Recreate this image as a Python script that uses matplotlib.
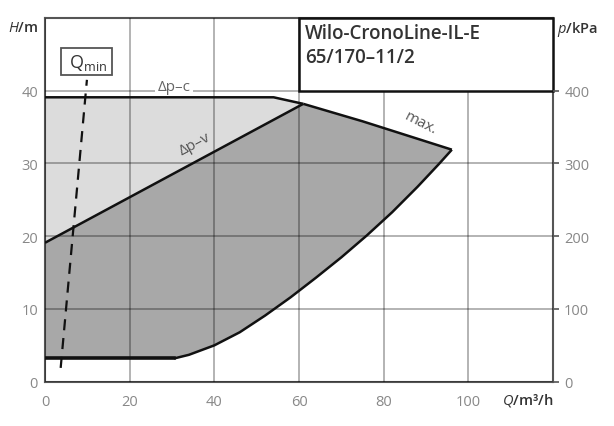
import matplotlib
matplotlib.use("Agg")
import matplotlib.pyplot as plt
from matplotlib.patches import Rectangle, Polygon

plt.rcParams["font.family"] = ["Open Sans", "DejaVu Sans"]
plt.rcParams["mathtext.fontset"] = "custom"
plt.rcParams["mathtext.rm"] = "Open Sans"
plt.rcParams["mathtext.it"] = "Open Sans:italic"

# pump curves, Q in m3/h, H in m
dpc_q = [0, 54, 61.0]
dpc_h = [39.1, 39.1, 38.2]
dpv_q = [0, 61.0]
dpv_h = [19.1, 38.2]
max_q = [61.0, 75, 96.1]
max_h = [38.2, 35.8, 31.9]
low_q = [30.5, 34, 40, 46, 52, 58, 64, 70, 76, 82, 88, 93, 96.1]
low_h = [3.2, 3.7, 5.0, 6.8, 9.1, 11.6, 14.3, 17.1, 20.1, 23.3, 26.8, 29.9, 31.9]
min_q = [0, 30.5]
min_h = [3.2, 3.2]
qmin_q = [3.7, 9.9]
qmin_h = [1.9, 41.5]

x_ticks = [0, 20, 40, 60, 80, 100]
h_ticks = [0, 10, 20, 30, 40]
p_ticks = [0, 100, 200, 300, 400]

fig = plt.figure(figsize=(6.14, 4.27), dpi=100)
ax = fig.add_axes([0.0733, 0.1037, 0.8274, 0.8518])
ax.set_xlim(0, 120)
ax.set_ylim(0, 50)

light = list(zip(dpc_q, dpc_h)) + list(zip(dpv_q, dpv_h))[::-1]
dark = (list(zip(min_q, min_h)) + list(zip(low_q, low_h))
        + list(zip(max_q, max_h))[::-1] + list(zip(dpv_q, dpv_h))[::-1])
ax.add_patch(Polygon(light, closed=True, facecolor="#dcdcdc", edgecolor="none", zorder=1))
ax.add_patch(Polygon(dark, closed=True, facecolor="#a8a8a8", edgecolor="none", zorder=1))

line_kw = dict(color="#111111", lw=1.8, zorder=3, solid_capstyle="butt",
               solid_joinstyle="round")
ax.plot(dpc_q, dpc_h, **line_kw)
ax.plot(dpv_q, dpv_h, **line_kw)
ax.plot(max_q, max_h, **line_kw)
ax.plot(low_q, low_h, **line_kw)
ax.plot(min_q, min_h, color="#111111", lw=2.6, zorder=3)
ax.plot(qmin_q, qmin_h, color="#111111", lw=1.6, linestyle=(0, (5, 3.5)), zorder=3)

ax.set_xticks(x_ticks)
ax.set_yticks(h_ticks)
ax.set_axisbelow(False)
ax.grid(True, color="black", alpha=0.32, lw=1.3)
for gl in ax.get_xgridlines() + ax.get_ygridlines():
    gl.set_zorder(2.5)
ax.tick_params(axis="both", length=0, labelsize=10.5, colors="#888888")
ax.tick_params(axis="y", pad=5)
ax.tick_params(axis="x", pad=9)
for side in ["left", "bottom", "right", "top"]:
    ax.spines[side].set_color("#555555")
    ax.spines[side].set_linewidth(1.5)

ax2 = ax.twinx()
ax2.set_ylim(0, 500)
ax2.set_yticks(p_ticks)
ax2.tick_params(axis="y", length=4, width=1.2, color="#555555", labelsize=10.5,
                labelcolor="#888888", pad=4)
for side in ["left", "bottom", "right", "top"]:
    ax2.spines[side].set_visible(False)

# title box
ax.add_patch(Rectangle((60, 40), 60, 10, facecolor="white", edgecolor="#111111",
                       lw=1.8, zorder=4, clip_on=False))
ax.text(61.5, 47.9, "Wilo-CronoLine-IL-E", fontsize=13.5, fontweight="semibold",
        color="#333333", va="center", ha="left", zorder=5)
ax.text(61.5, 44.7, "65/170\u201311/2", fontsize=13.5, fontweight="semibold",
        color="#333333", va="center", ha="left", zorder=5)

ax.text(9.8, 44.0, r" Q$_{\rm min}$ ", fontsize=13, color="#333333", ha="center",
        va="center", zorder=5,
        bbox=dict(boxstyle="square,pad=0.2", facecolor="white", edgecolor="#555555", lw=1.3))

ax.text(30.5, 40.6, "\u0394p\u2013c", fontsize=11, color="#666666", ha="center",
        va="center", zorder=5,
        bbox=dict(boxstyle="square,pad=0.15", facecolor="white", edgecolor="none"))
ax.text(35.3, 32.8, "\u0394p\u2013v", fontsize=11, color="#555555", ha="center",
        va="center", rotation=28, zorder=5)
ax.text(88.7, 35.6, "max.", fontsize=11, color="#555555", ha="center",
        va="center", rotation=-27, zorder=5)

fig.text(0.0375, 0.934, r"$H$/m", fontsize=10.5, color="#333333", ha="center",
         va="center", fontweight="semibold")
fig.text(0.941, 0.930, r"$p$/kPa", fontsize=10.5, color="#333333", ha="center",
         va="center", fontweight="semibold")
fig.text(0.86, 0.061, r"$Q$/m³/h", fontsize=10.5, color="#333333", ha="center",
         va="center", fontweight="semibold")

fig.savefig("out.png", dpi=100)
